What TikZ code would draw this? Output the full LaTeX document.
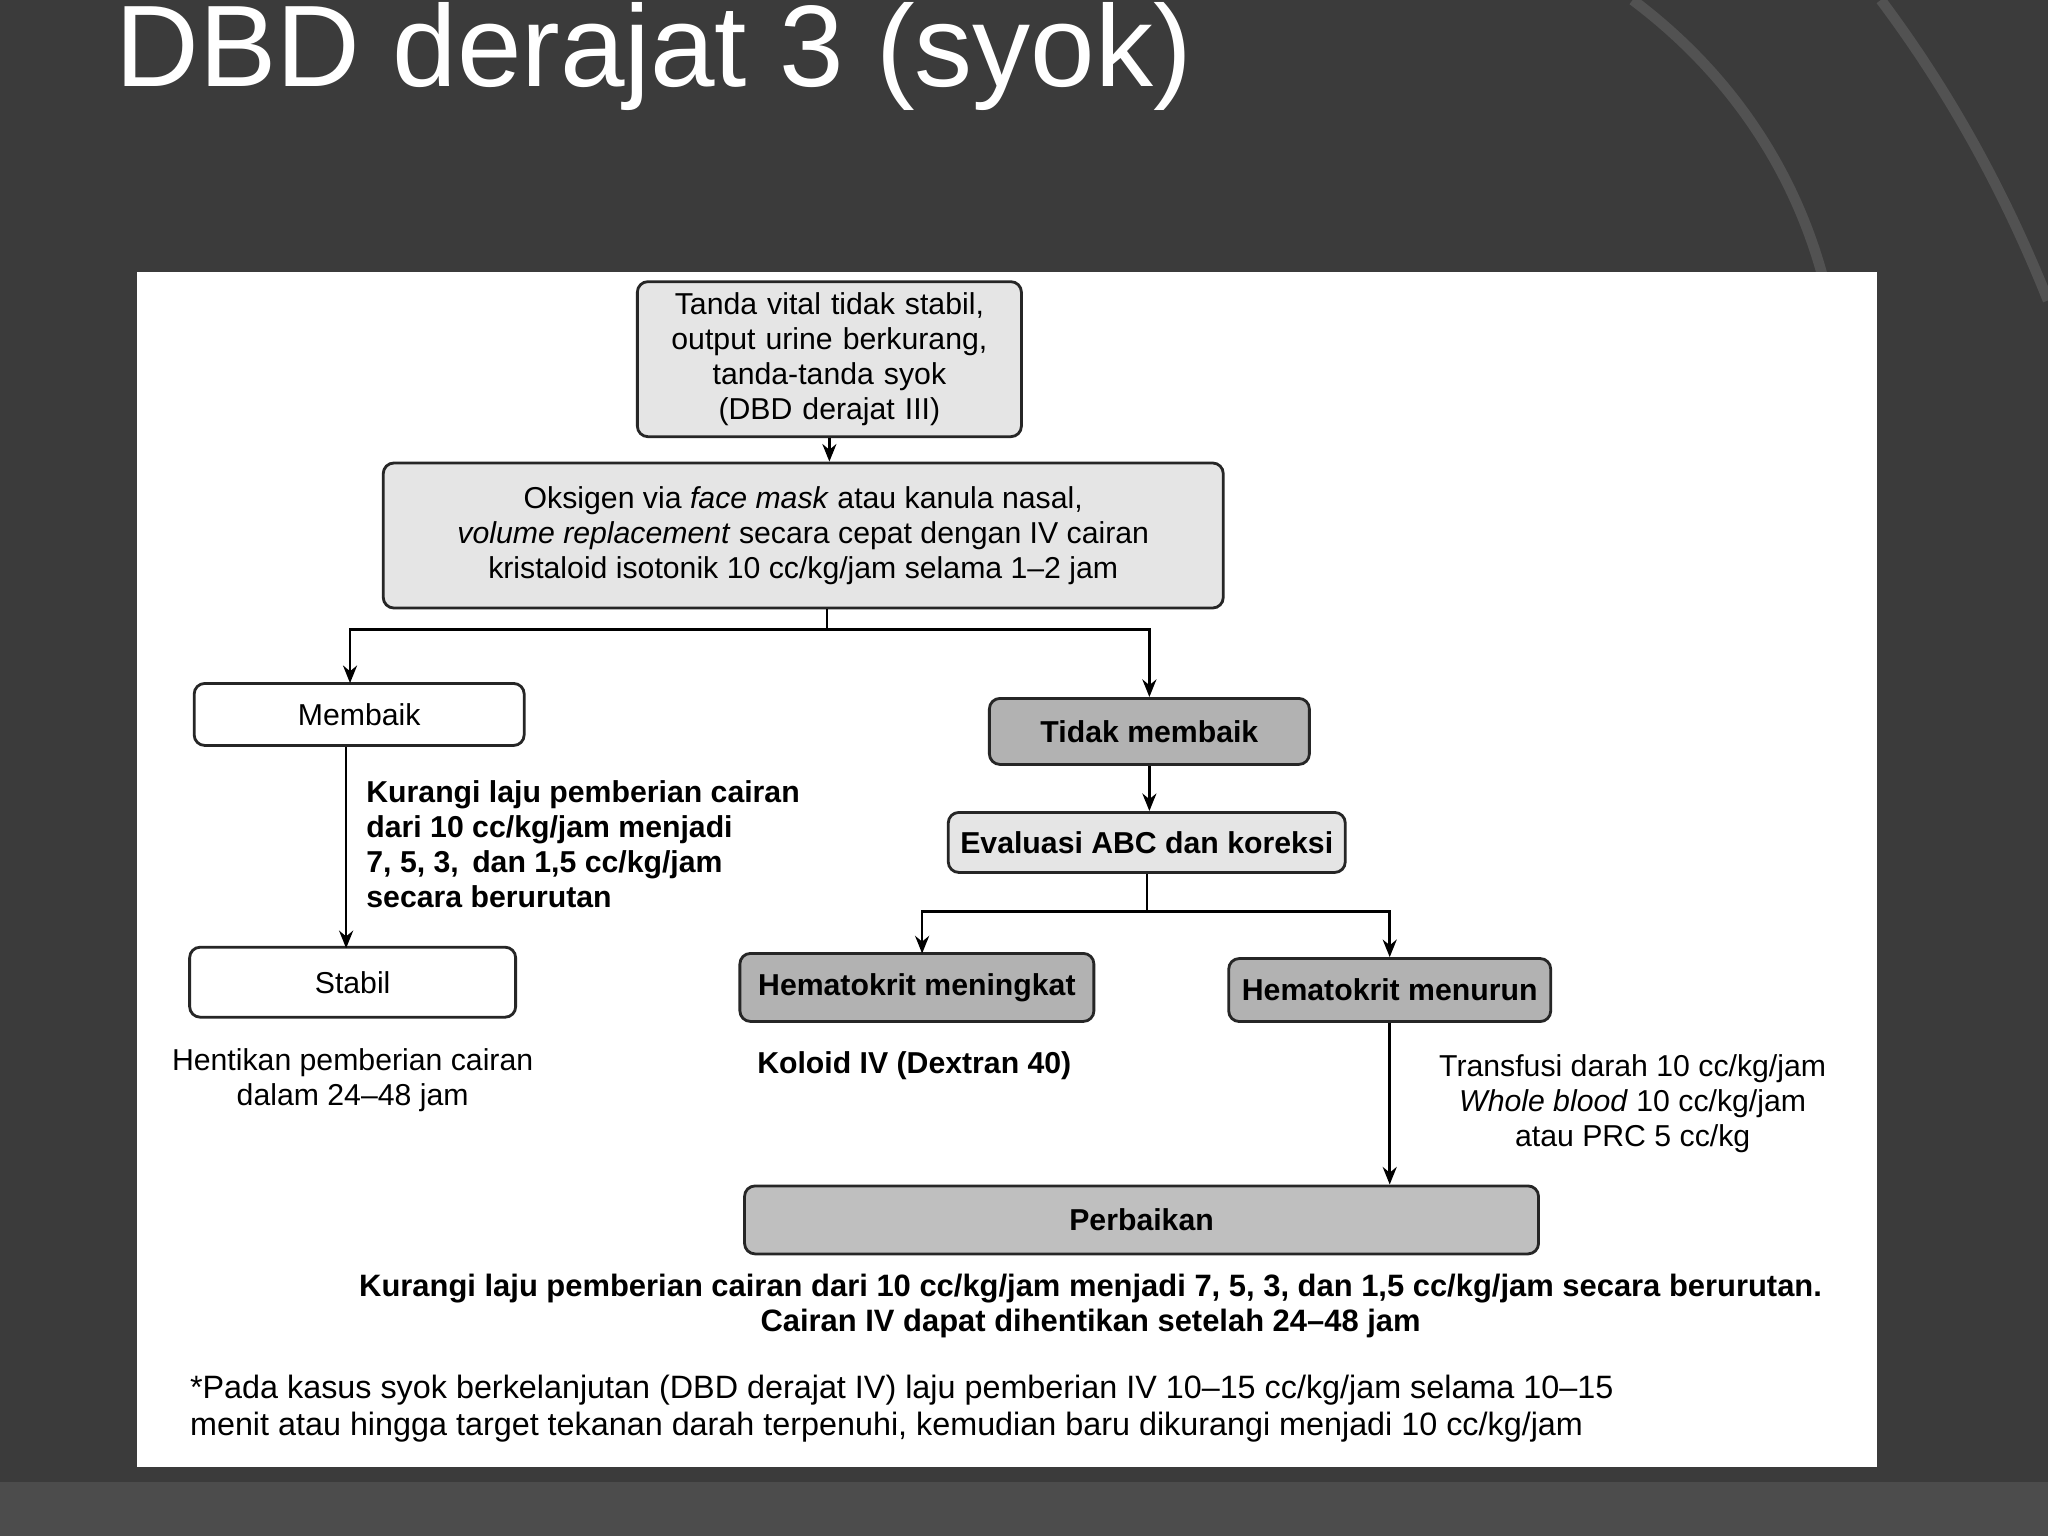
\documentclass[tikz,border=0pt]{standalone}
\usepackage{fontspec}
\setmainfont{Liberation Sans}
\usetikzlibrary{arrows.meta}
\begin{document}
\begin{tikzpicture}[x=0.01306cm,y=-0.01306cm,
  box/.style={draw=black!85,line width=0.8pt,rounded corners=3pt,align=center,font=\fontsize{8.6}{10}\selectfont,inner sep=2pt},
  lg/.style={box,fill=black!10},
  dg/.style={box,fill=black!30,font=\fontsize{8.6}{10}\selectfont\bfseries},
  wb/.style={box,fill=white},
  txt/.style={font=\fontsize{8.6}{10}\selectfont,align=center,inner sep=0pt},
  arr/.style={-{Stealth[length=5pt,width=4pt]},line width=0.7pt},
  ln/.style={line width=0.7pt}]
\useasboundingbox (0,0) rectangle (1568,1176);
\fill[black!77] (0,0) rectangle (1568,1176);
\fill[black!70] (0,1135) rectangle (1568,1176);
\draw[black!68,line width=3pt] (1250,0) .. controls (1330,60) and (1380,140) .. (1400,230);
\draw[black!68,line width=3pt] (1440,0) .. controls (1500,80) and (1540,160) .. (1568,230);
\node[anchor=base west,text=white,font=\fontsize{33}{33}\selectfont,inner sep=0pt] (title) at (88,66) {DBD derajat 3 (syok)};
\fill[white] (105,208) rectangle (1437,1123);
\node[lg,text width=3.7cm,minimum height=1.55cm] (top) at (635,275) {Tanda vital tidak stabil,\\ output urine berkurang,\\ tanda-tanda syok\\ (DBD derajat III)};
\node[lg,minimum width=8.4cm,minimum height=1.45cm] (oks) at (615,410) {Oksigen via \textit{face mask} atau kanula nasal,\\ \textit{volume replacement} secara cepat dengan IV cairan\\ kristaloid isotonik 10 cc/kg/jam selama 1--2 jam};
\node[wb,minimum width=3.3cm,minimum height=0.62cm] (mem) at (275,547) {Membaik};
\node[dg,minimum width=3.2cm,minimum height=0.66cm] (tid) at (880,560) {Tidak membaik};
\node[lg,minimum width=3.97cm,minimum height=0.6cm,font=\fontsize{8.6}{10}\selectfont\bfseries] (eva) at (878,645) {Evaluasi ABC dan koreksi};
\node[wb,minimum width=3.26cm,minimum height=0.7cm] (sta) at (270,752) {Stabil};
\node[dg,minimum width=3.54cm,minimum height=0.68cm] (hmi) at (702,756) {Hematokrit meningkat};
\node[dg,minimum width=3.22cm,minimum height=0.63cm] (hmu) at (1064,758) {Hematokrit menurun};
\node[dg,minimum width=7.94cm,minimum height=0.68cm,fill=black!25] (per) at (874,934) {Perbaikan};
\node[txt,anchor=north west,align=left,font=\fontsize{8.6}{10}\selectfont\bfseries] (kur) at (280,597) {Kurangi laju pemberian cairan\\ dari 10 cc/kg/jam menjadi\\ 7, 5, 3,\, dan 1,5 cc/kg/jam\\ secara berurutan};
\node[txt] (hen) at (270,827) {Hentikan pemberian cairan\\ dalam 24--48 jam};
\node[txt,font=\fontsize{8.6}{10}\selectfont\bfseries] (kol) at (700,816) {Koloid IV (Dextran 40)};
\node[txt] (tra) at (1250,845) {Transfusi darah 10 cc/kg/jam\\ \textit{Whole blood} 10 cc/kg/jam\\ atau PRC 5 cc/kg};
\node[txt,font=\fontsize{8.8}{10}\selectfont\bfseries] (bot) at (835,1000) {Kurangi laju pemberian cairan dari 10 cc/kg/jam menjadi 7, 5, 3, dan 1,5 cc/kg/jam secara berurutan.\\ Cairan IV dapat dihentikan setelah 24--48 jam};
\node[txt,anchor=north west,align=left,font=\fontsize{9.2}{10.5}\selectfont] (foot) at (145,1052) {*Pada kasus syok berkelanjutan (DBD derajat IV) laju pemberian IV 10--15 cc/kg/jam selama 10--15\\ menit atau hingga target tekanan darah terpenuhi, kemudian baru dikurangi menjadi 10 cc/kg/jam};
\draw[arr] (top.south) -- (oks.north -| top.south);
\coordinate (j1) at (633,482);
\draw[ln] (oks.south -| j1) -- (j1);
\draw[arr] (j1) -| (268,523);
\draw[arr] (j1) -| (tid.north);
\draw[arr] (265,572) -- (265,726);
\draw[arr] (tid.south) -- (eva.north -| tid.south);
\coordinate (j2) at (878,698);
\draw[ln] (eva.south) -- (j2);
\draw[arr] (j2) -| (706,730);
\draw[arr] (j2) -| (hmu.north);
\draw[arr] (hmu.south) -- (per.north -| hmu.south);
\end{tikzpicture}
\end{document}
